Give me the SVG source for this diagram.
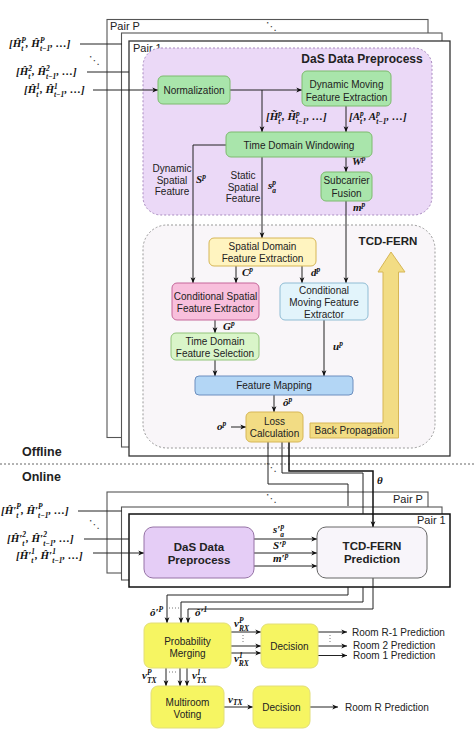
<svg xmlns="http://www.w3.org/2000/svg" width="474" height="731" viewBox="0 0 474 731">
<defs>
<marker id="ah" viewBox="0 0 10 10" refX="9.5" refY="5" markerWidth="6" markerHeight="6" orient="auto" markerUnits="userSpaceOnUse"><path d="M0,1 L10,5 L0,9 L2.5,5 z" fill="#111"/></marker>
<style>
.fr{fill:#fff;stroke:#555;stroke-width:1.1}
.fr1{fill:#fff;stroke:#333;stroke-width:1.3}
.t{font-family:"Liberation Sans",Arial,sans-serif;font-size:10px;fill:#222;text-anchor:middle}
.tl{font-family:"Liberation Sans",Arial,sans-serif;font-size:10px;fill:#222}
.b{font-weight:bold}
.m{font-family:"Liberation Serif","Times New Roman",serif;font-style:italic;font-weight:bold;font-size:11px;fill:#111}
.s{font-size:7.5px}
.dots{font-family:"DejaVu Sans",sans-serif;font-size:11px;fill:#444}
.c{fill:none;stroke:#222;stroke-width:1}
.ca{fill:none;stroke:#222;stroke-width:1;marker-end:url(#ah)}
.green{fill:#a9e5ab;stroke:#7dbb6e;stroke-width:1}
.yel{fill:#f6f562;stroke:#e2de78;stroke-width:1}
</style>
</defs>

<!-- Offline frames -->
<g id="offline-frames">
<rect class="fr" x="107" y="19.5" width="321" height="418"/>
<text class="tl" x="110" y="30" style="font-size:11px">Pair P</text>
<rect class="fr" x="121.5" y="33" width="320.5" height="414"/>
<rect class="fr1" x="129" y="41" width="321" height="415"/>
<text class="tl" x="133" y="52" style="font-size:11px">Pair 1</text>
<text class="dots" x="266" y="30">⋱</text>
</g>

<!-- Regions -->
<g id="das-region">
<rect x="143" y="48" width="289" height="167" rx="18" fill="#ebd9f7" stroke="#a98bc0" stroke-dasharray="2,2"/>
<text class="t b" x="362" y="63" style="font-size:12px">DaS Data Preprocess</text>
</g>
<g id="tcd-region">
<rect x="143" y="225" width="292" height="223" rx="24" fill="#f9f6f9" stroke="#999" stroke-dasharray="2,2"/>
<text class="t b" x="388" y="245" style="font-size:11.5px">TCD-FERN</text>
</g>
<g id="backprop">
<polygon points="310,423 383,423 383,272 378,272 391,252 405,272 398.5,272 398.5,438 310,438" fill="#f2dc84" stroke="#d6b656"/>
<text class="t" x="354" y="434">Back Propagation</text>
</g>

<!-- Separator -->
<g id="separator">
<line x1="0" y1="464" x2="474" y2="464" stroke="#666" stroke-dasharray="2,2"/>
<text class="tl b" x="22" y="456" style="font-size:12.5px">Offline</text>
<text class="tl b" x="22" y="481" style="font-size:12.5px">Online</text>
</g>

<!-- Online frames -->
<g id="online-frames">
<rect class="fr" x="107" y="492" width="321" height="81"/>
<text class="tl" x="393" y="503" style="font-size:11px">Pair P</text>
<rect class="fr" x="121.5" y="507" width="320.5" height="73"/>
<rect x="129" y="514" width="321" height="73" fill="#fff" stroke="#111" stroke-width="1.5"/>
<text class="tl" x="417" y="524" style="font-size:11px">Pair 1</text>
<text class="dots" x="266" y="502">⋱</text>
</g>

<!-- Connectors -->
<g id="connectors">
<path class="c" d="M80,44 H122"/>
<path class="c" d="M87,72 H129"/>
<path class="ca" d="M93,90 H158"/>
<path class="ca" d="M230,90 H302"/>
<path class="ca" d="M262,90 V132"/>
<path class="ca" d="M346,106 V132"/>
<path class="ca" d="M226,145 H193 V283"/>
<path class="ca" d="M262,157 V238"/>
<path class="ca" d="M346,157 V172"/>
<path class="ca" d="M346,201 V283"/>
<path class="ca" d="M236,266 V283"/>
<path class="ca" d="M302,266 V283"/>
<path class="ca" d="M215,320 V333"/>
<path class="ca" d="M215,360 V376"/>
<path class="ca" d="M324,320 V376"/>
<path class="ca" d="M274,395 V412"/>
<path class="ca" d="M231,427 H246"/>
<path class="c" d="M268,442 V484 H348 V506"/>
<path class="c" d="M282,442 V473 H363 V514"/>
<path d="M289,442 V471 H373 V527" fill="none" stroke="#111" stroke-width="1.5" marker-end="url(#ah)"/>
<text class="dots" x="266" y="471">⋱</text>
<path class="c" d="M78,511 H122"/>
<path class="c" d="M84,539 H129"/>
<path class="ca" d="M93,553 H144"/>
<path class="ca" d="M254,539 H317"/>
<path class="ca" d="M254,553 H317"/>
<path class="ca" d="M254,566 H317"/>
<path class="ca" d="M348,587 V595 H167 V623"/>
<path class="ca" d="M363,587 V602 H181 V623"/>
<path class="ca" d="M373,578 V609 H188 V623"/>
<path class="ca" d="M231,632 H261"/>
<path class="ca" d="M231,646 H261"/>
<path class="ca" d="M231,653 H261"/>
<path class="ca" d="M166,668 V686"/>
<path class="ca" d="M180,668 V686"/>
<path class="ca" d="M187,668 V686"/>
<path class="ca" d="M224,707 H253"/>
<path class="ca" d="M318,632 H347"/>
<path class="ca" d="M318,646 H347"/>
<path class="ca" d="M318,655.5 H347"/>
<path class="ca" d="M310,707 H338"/>
<path d="M243,635 V643 M330,635 V643" stroke="#777" stroke-dasharray="1,2"/>
<path d="M169,608 H179 M169,672 H178" stroke="#777" stroke-dasharray="1,2"/>
</g>

<!-- Input labels -->
<g id="inputs">
<text class="m" x="9" y="47">[Ĥ<tspan class="s" dy="-4.5">P</tspan><tspan class="s" dx="-4.6" dy="8">t</tspan><tspan dx="2.5" dy="-3.5">, Ĥ</tspan><tspan class="s" dy="-4.5">P</tspan><tspan class="s" dx="-4.6" dy="8">t−1</tspan><tspan dy="-3.5">, …]</tspan></text>
<text class="dots" x="89" y="64">⋱</text>
<text class="m" x="16" y="75">[Ĥ<tspan class="s" dy="-4.5">2</tspan><tspan class="s" dx="-3.8" dy="8">t</tspan><tspan dx="1.7" dy="-3.5">, Ĥ</tspan><tspan class="s" dy="-4.5">2</tspan><tspan class="s" dx="-3.8" dy="8">t−1</tspan><tspan dy="-3.5">, …]</tspan></text>
<text class="m" x="24" y="93">[Ĥ<tspan class="s" dy="-4.5">1</tspan><tspan class="s" dx="-3.8" dy="8">t</tspan><tspan dx="1.7" dy="-3.5">, Ĥ</tspan><tspan class="s" dy="-4.5">1</tspan><tspan class="s" dx="-3.8" dy="8">t−1</tspan><tspan dy="-3.5">, …]</tspan></text>
<text class="m" x="1" y="514">[Ĥ′<tspan class="s" dy="-5">P</tspan><tspan class="s" dx="-4.6" dy="8.5">t</tspan><tspan dx="2.5" dy="-3.5">, Ĥ′</tspan><tspan class="s" dy="-5">P</tspan><tspan class="s" dx="-4.6" dy="8.5">t−1</tspan><tspan dy="-3.5">, …]</tspan></text>
<text class="dots" x="89" y="528">⋱</text>
<text class="m" x="7" y="542">[Ĥ′<tspan class="s" dy="-5">2</tspan><tspan class="s" dx="-3.8" dy="8.5">t</tspan><tspan dx="1.7" dy="-3.5">, Ĥ′</tspan><tspan class="s" dy="-5">2</tspan><tspan class="s" dx="-3.8" dy="8.5">t−1</tspan><tspan dy="-3.5">, …]</tspan></text>
<text class="m" x="16" y="559">[Ĥ′<tspan class="s" dy="-5">1</tspan><tspan class="s" dx="-3.8" dy="8.5">t</tspan><tspan dx="1.7" dy="-3.5">, Ĥ′</tspan><tspan class="s" dy="-5">1</tspan><tspan class="s" dx="-3.8" dy="8.5">t−1</tspan><tspan dy="-3.5">, …]</tspan></text>
</g>

<!-- Edge labels -->
<g id="labels">
<text class="m" x="266" y="120">[H̃<tspan class="s" dy="-4.5">p</tspan><tspan class="s" dx="-3.8" dy="8">t</tspan><tspan dx="1.7" dy="-3.5">, H̃</tspan><tspan class="s" dy="-4.5">p</tspan><tspan class="s" dx="-3.8" dy="8">t−1</tspan><tspan dy="-3.5">, …]</tspan></text>
<text class="m" x="349" y="120">[A<tspan class="s" dy="-4.5">p</tspan><tspan class="s" dx="-3.8" dy="8">t</tspan><tspan dx="1.7" dy="-3.5">, A</tspan><tspan class="s" dy="-4.5">p</tspan><tspan class="s" dx="-3.8" dy="8">t−1</tspan><tspan dy="-3.5">, …]</tspan></text>
<text class="t" x="172" y="171.5">Dynamic</text>
<text class="t" x="172" y="183.5">Spatial</text>
<text class="t" x="172" y="194.5">Feature</text>
<text class="m" x="196" y="183">S<tspan class="s" dy="-4.5">p</tspan></text>
<text class="t" x="243" y="178.5">Static</text>
<text class="t" x="243" y="190.5">Spatial</text>
<text class="t" x="243" y="201.5">Feature</text>
<text class="m" x="268" y="189">s<tspan class="s" dy="-4.5">p</tspan><tspan class="s" dx="-3.8" dy="8">a</tspan></text>
<text class="m" x="352" y="165">W<tspan class="s" dy="-4.5">p</tspan></text>
<text class="m" x="353" y="211">m<tspan class="s" dy="-4.5">p</tspan></text>
<text class="m" x="242" y="276">C<tspan class="s" dy="-4.5">p</tspan></text>
<text class="m" x="311" y="276">d<tspan class="s" dy="-4.5">p</tspan></text>
<text class="m" x="223" y="330">G<tspan class="s" dy="-4.5">p</tspan></text>
<text class="m" x="333" y="350">u<tspan class="s" dy="-4.5">p</tspan></text>
<text class="m" x="283" y="406">ô<tspan class="s" dy="-4.5">p</tspan></text>
<text class="m" x="217" y="430">o<tspan class="s" dy="-4.5">p</tspan></text>
<text class="m" x="377" y="484">θ</text>
<text class="m" x="273" y="533">s′<tspan class="s" dy="-4.5">p</tspan><tspan class="s" dx="-3.8" dy="8">a</tspan></text>
<text class="m" x="273" y="549">S′<tspan class="s" dy="-4.5">p</tspan></text>
<text class="m" x="273" y="562">m′<tspan class="s" dy="-4.5">p</tspan></text>
<text class="m" x="150" y="616">ô′<tspan class="s" dy="-4.5">P</tspan></text>
<text class="m" x="195" y="616">ô′<tspan class="s" dy="-4.5">1</tspan></text>
<text class="m" x="234" y="627">v<tspan class="s" dy="-4.5">P</tspan><tspan class="s" dx="-4.6" dy="8">RX</tspan></text>
<text class="m" x="234" y="662">v<tspan class="s" dy="-4.5">1</tspan><tspan class="s" dx="-3.8" dy="8">RX</tspan></text>
<text class="m" x="142" y="679">v<tspan class="s" dy="-4.5">P</tspan><tspan class="s" dx="-4.6" dy="8">TX</tspan></text>
<text class="m" x="192" y="679">v<tspan class="s" dy="-4.5">1</tspan><tspan class="s" dx="-3.8" dy="8">TX</tspan></text>
<text class="m" x="228" y="703">v<tspan class="s" dy="2">TX</tspan></text>
<text class="tl" x="352" y="635.5">Room R-1 Prediction</text>
<text class="tl" x="353" y="649">Room 2 Prediction</text>
<text class="tl" x="353" y="659">Room 1 Prediction</text>
<text class="tl" x="345" y="710.5">Room R Prediction</text>
</g>

<!-- Nodes -->
<g id="normalization"><rect class="green" x="158" y="76" width="72" height="28" rx="5"/><text class="t" x="194" y="93.5">Normalization</text></g>
<g id="dmfe"><rect class="green" x="302" y="71" width="89" height="35" rx="5"/><text class="t" x="346.5" y="87.5">Dynamic Moving</text><text class="t" x="346.5" y="100.5">Feature Extraction</text></g>
<g id="tdw"><rect class="green" x="226" y="132" width="146" height="25" rx="5"/><text class="t" x="299" y="148.5">Time Domain Windowing</text></g>
<g id="sf"><rect class="green" x="321" y="172" width="51" height="29" rx="5"/><text class="t" x="346.5" y="184">Subcarrier</text><text class="t" x="346.5" y="196.5">Fusion</text></g>
<g id="sdfe"><rect x="209" y="238" width="107" height="28" rx="5" fill="#fff4c0" stroke="#d6b656"/><text class="t" x="262.5" y="249.5">Spatial Domain</text><text class="t" x="262.5" y="261.5">Feature Extraction</text></g>
<g id="csfe"><rect x="172" y="283" width="87" height="37" rx="5" fill="#f8bfdc" stroke="#c5679a"/><text class="t" x="215.5" y="299.5">Conditional Spatial</text><text class="t" x="215.5" y="311.5">Feature Extractor</text></g>
<g id="cmfe"><rect x="280" y="283" width="88" height="37" rx="5" fill="#e2f4fb" stroke="#8fbcd4"/><text class="t" x="324" y="293.5">Conditional</text><text class="t" x="324" y="305.5">Moving Feature</text><text class="t" x="324" y="317.5">Extractor</text></g>
<g id="tdfs"><rect x="171" y="333" width="88" height="27" rx="5" fill="#d9f5c9" stroke="#92c47a"/><text class="t" x="215" y="344.5">Time Domain</text><text class="t" x="215" y="356.5">Feature Selection</text></g>
<g id="fm"><rect x="195" y="376" width="158" height="19" rx="4" fill="#b3d6f5" stroke="#6c8ebf"/><text class="t" x="274" y="388.5">Feature Mapping</text></g>
<g id="loss"><rect x="246" y="412" width="57" height="30" rx="5" fill="#f2dc84" stroke="#d6b656"/><text class="t" x="274.5" y="424.5">Loss</text><text class="t" x="274.5" y="436.5">Calculation</text></g>
<g id="das-online"><rect x="144" y="527" width="110" height="51" rx="9" fill="#e5cdf6" stroke="#9673a6"/><text class="t b" x="199" y="551" style="font-size:11.5px">DaS Data</text><text class="t b" x="199" y="564" style="font-size:11.5px">Preprocess</text></g>
<g id="tcd-prediction"><rect x="317" y="527" width="110" height="51" rx="9" fill="#f8f5fa" stroke="#666"/><text class="t b" x="372" y="550" style="font-size:11.5px">TCD-FERN</text><text class="t b" x="372" y="563" style="font-size:11.5px">Prediction</text></g>
<g id="prob-merging"><rect class="yel" x="144" y="623" width="87" height="45" rx="7"/><text class="t" x="187.5" y="644.5">Probability</text><text class="t" x="187.5" y="656.5">Merging</text></g>
<g id="decision1"><rect class="yel" x="261" y="624" width="57" height="44" rx="7"/><text class="t" x="289.5" y="649.5">Decision</text></g>
<g id="multiroom"><rect class="yel" x="151" y="686" width="73" height="42" rx="7"/><text class="t" x="187.5" y="705.5">Multiroom</text><text class="t" x="187.5" y="717.5">Voting</text></g>
<g id="decision2"><rect class="yel" x="253" y="686" width="57" height="42" rx="7"/><text class="t" x="281.5" y="710.5">Decision</text></g>
</svg>
